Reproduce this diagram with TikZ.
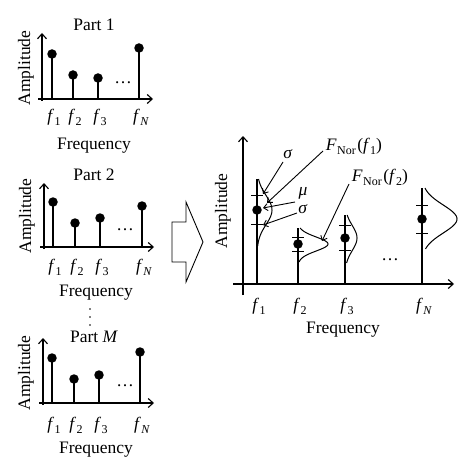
\documentclass[tikz,border=0pt]{standalone}
\usepackage{fontspec}
\setmainfont{Liberation Serif}
\usetikzlibrary{arrows.meta}
\newcommand\fl[1]{\textit{f}\kern0.2pt\raisebox{-4pt}{\fontsize{12}{12}\selectfont #1}}
\newcommand\fnor[1]{\textit{F}\kern0.3pt\raisebox{-4pt}{\fontsize{12}{12}\selectfont Nor}\kern1.5pt(\fl{#1})}
\begin{document}
\begin{tikzpicture}[x=1pt,y=-1pt,
  font=\fontsize{17.5}{20}\selectfont,
  axis/.style={line width=1.1pt,-{Straight Barb[length=5pt,width=9pt,line width=1.1pt]}},
  stem/.style={line width=1.2pt},
  dot/.style={circle,fill=black,inner sep=0pt,minimum size=9.5pt},
  lab/.style={inner sep=0pt},
  ann/.style={line width=0.9pt,-{Straight Barb[length=4pt,width=7pt,line width=0.9pt]}},
  tick/.style={line width=0.9pt},
  gauss/.style={line width=1pt}]
\useasboundingbox (0,0) rectangle (474,476);

% ---------- Part 1 ----------
\coordinate (a1o) at (42,101);
\coordinate (a1t) at (42,33);
\coordinate (a1l) at (38,99);
\coordinate (a1r) at (153,99);
\draw[axis] (a1o) -- (a1t);
\draw[axis] (a1l) -- (a1r);
\foreach \px/\t/\n/\s in {52/54/1/1,73/75/2/2,98/78/3/3,139/48/N/{\textit{N}}}{
  \coordinate (p1b\n) at (\px,99);
  \node[dot] (p1d\n) at (\px,\t) {};
  \draw[stem] (p1b\n) -- (p1d\n.center);
  \node[lab] (p1f\n) at (\px+2,117) {\fl{\s}};
}
\node[lab] (p1dots) at (123,83) {\dots};
\node[lab] (p1title) at (94,25) {Part 1};
\node[lab] (p1freq) at (94,146) {Frequency};
\node[lab,rotate=90] (p1amp) at (26,68) {Amplitude};

% ---------- Part 2 ----------
\coordinate (a2o) at (44,249);
\coordinate (a2t) at (44,183);
\coordinate (a2l) at (40,247);
\coordinate (a2r) at (154,247);
\draw[axis] (a2o) -- (a2t);
\draw[axis] (a2l) -- (a2r);
\foreach \px/\t/\n/\s in {53/202/1/1,75/223/2/2,100/218/3/3,142/206/N/{\textit{N}}}{
  \coordinate (p2b\n) at (\px,247);
  \node[dot] (p2d\n) at (\px,\t) {};
  \draw[stem] (p2b\n) -- (p2d\n.center);
  \node[lab] (p2f\n) at (\px+2,267) {\fl{\s}};
}
\node[lab] (p2dots) at (125,230) {\dots};
\node[lab] (p2title) at (94,175) {Part 2};
\node[lab] (p2freq) at (96,293) {Frequency};
\node[lab,rotate=90] (p2amp) at (27,216) {Amplitude};

% vertical dots
\foreach \py in {309,317,325}{
  \fill (90,\py) circle (0.9pt);
}

% ---------- Part M ----------
\coordinate (a3o) at (43,405);
\coordinate (a3t) at (43,338);
\coordinate (a3l) at (39,403);
\coordinate (a3r) at (154,403);
\draw[axis] (a3o) -- (a3t);
\draw[axis] (a3l) -- (a3r);
\foreach \px/\t/\n/\s in {52/358/1/1,74/379/2/2,99/375/3/3,140/352/N/{\textit{N}}}{
  \coordinate (p3b\n) at (\px,403);
  \node[dot] (p3d\n) at (\px,\t) {};
  \draw[stem] (p3b\n) -- (p3d\n.center);
  \node[lab] (p3f\n) at (\px+2,425) {\fl{\s}};
}
\node[lab] (p3dots) at (125,386) {\dots};
\node[lab] (p3title) at (94,337) {Part \textit{M}};
\node[lab] (p3freq) at (96,450) {Frequency};
\node[lab,rotate=90] (p3amp) at (26,373) {Amplitude};

% ---------- big hollow arrow ----------
\draw[line width=0.9pt,line join=miter] (172,222) -- (186,222) -- (186,202) -- (203,242)
  -- (186,282) -- (186,262) -- (172,262) -- cycle;

% ---------- right panel ----------
\coordinate (rao) at (243,295);
\coordinate (rat) at (243,136);
\coordinate (ral) at (233,284);
\coordinate (rar) at (454,284);
\draw[axis] (rao) -- (rat);
\draw[axis] (ral) -- (rar);

\foreach \px/\t/\c/\s/\A/\lo/\hi/\n/\lbl in {
  257/179/210/14.5/15/179/246/1/1,
  298/228/244/7/30/228/262/2/2,
  345/215/238/12.5/12/215/263/3/3,
  422/188/219/14/35/188/249/N/{\textit{N}}}{
  \coordinate (rb\n) at (\px,284);
  \coordinate (rt\n) at (\px,\t);
  \draw[stem] (rb\n) -- (rt\n);
  \draw[tick] (\px-6,\c-\s) -- (\px+6,\c-\s);
  \draw[tick] (\px-6,\c+\s) -- (\px+6,\c+\s);
  \draw[gauss] plot[variable=\v,domain=\lo:\hi,samples=80,smooth] ({\px+\A*exp(-((\v-\c)^2)/(2*\s*\s))},\v);
  \node[dot] (rd\n) at (\px,\c) {};
  \node[lab] (rf\n) at (\px+2,306) {\fl{\lbl}};
}
\node[lab] (rdots) at (390,260) {\dots};
\node[lab] (rfreq) at (343,330) {Frequency};
\node[lab,rotate=90] (ramp) at (223,211) {Amplitude};

% annotations
\node[lab] (sigA) at (288,154) {\textit{σ}};
\node[lab] (fnorA) at (354,146) {\fnor{1}};
\node[lab] (muB) at (303,193) {\textit{μ}};
\node[lab] (sigB) at (303,209) {\textit{σ}};
\node[lab] (fnorB) at (380,177) {\fnor{2}};

\coordinate (sigAs) at (283,162);
\coordinate (sigAe) at (263,194);
\coordinate (fnorAs) at (323,151);
\coordinate (fnorAe) at (267,203);
\coordinate (muBs) at (295,202);
\coordinate (muBe) at (263,208);
\coordinate (sigBs) at (297,213);
\coordinate (sigBe) at (263,225);
\coordinate (fnorBs) at (349,184);
\coordinate (fnorBe) at (322,241);
\draw[ann] (sigAs) -- (sigAe);
\draw[ann] (fnorAs) -- (fnorAe);
\draw[ann] (muBs) -- (muBe);
\draw[ann] (sigBs) -- (sigBe);
\draw[ann] (fnorBs) -- (fnorBe);
\end{tikzpicture}
\end{document}
